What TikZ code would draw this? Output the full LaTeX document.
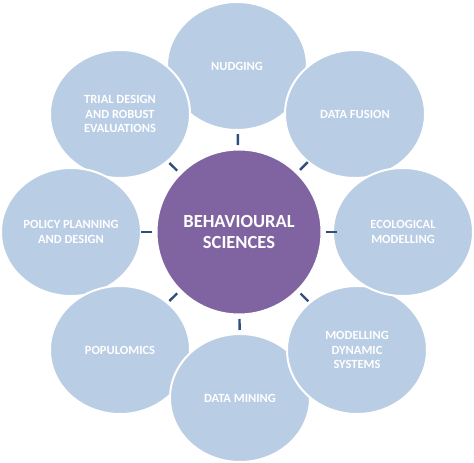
\documentclass[tikz,border=0pt]{standalone}
\usepackage{fontspec}
\setmainfont{Carlito}
\usetikzlibrary{shapes.geometric,calc}
\definecolor{outerblue}{HTML}{B9CDE5}
\definecolor{centerpurple}{HTML}{8064A2}
\definecolor{tickblue}{HTML}{2F4F7F}
\begin{document}
\begin{tikzpicture}[x=1pt,y=-1pt,
  outer/.style={ellipse,fill=outerblue,draw=white,line width=2pt,minimum width=140pt,minimum height=128pt,inner sep=0pt,align=center,text=white,font=\fontsize{12.5}{14.8}\selectfont\bfseries},
  hub/.style={circle,fill=centerpurple,draw=white,line width=2pt,minimum size=165pt,inner sep=0pt,align=center,text=white,font=\fontsize{18.5}{20.5}\selectfont\bfseries},
  tick/.style={draw=tickblue,line width=2.4pt}]
\useasboundingbox (0,0) rectangle (474,463);
\node[outer] (nud) at (237,66) {NUDGING};
\node[outer] (fus) at (355,114) {DATA FUSION};
\node[outer] (tri) at (120,114) {TRIAL DESIGN\\AND ROBUST\\EVALUATIONS};
\node[outer] (pol) at (71,232) {POLICY PLANNING\\AND DESIGN};
\node[outer] (pop) at (120,350) {POPULOMICS};
\node[outer] (min) at (240,398) {DATA MINING};
\node[outer] (mod) at (357,350) {MODELLING\\DYNAMIC\\SYSTEMS};
\node[outer] (eco) at (403,232) {ECOLOGICAL\\MODELLING};
\node[hub] (c) at (239,232) {BEHAVIOURAL\\SCIENCES};
\foreach \n in {nud,fus,eco,mod,min,pop,pol,tri}
  \draw[tick] ($(c.center)!87pt!(\n.center)$) -- ($(c.center)!98pt!(\n.center)$);
\end{tikzpicture}
\end{document}
